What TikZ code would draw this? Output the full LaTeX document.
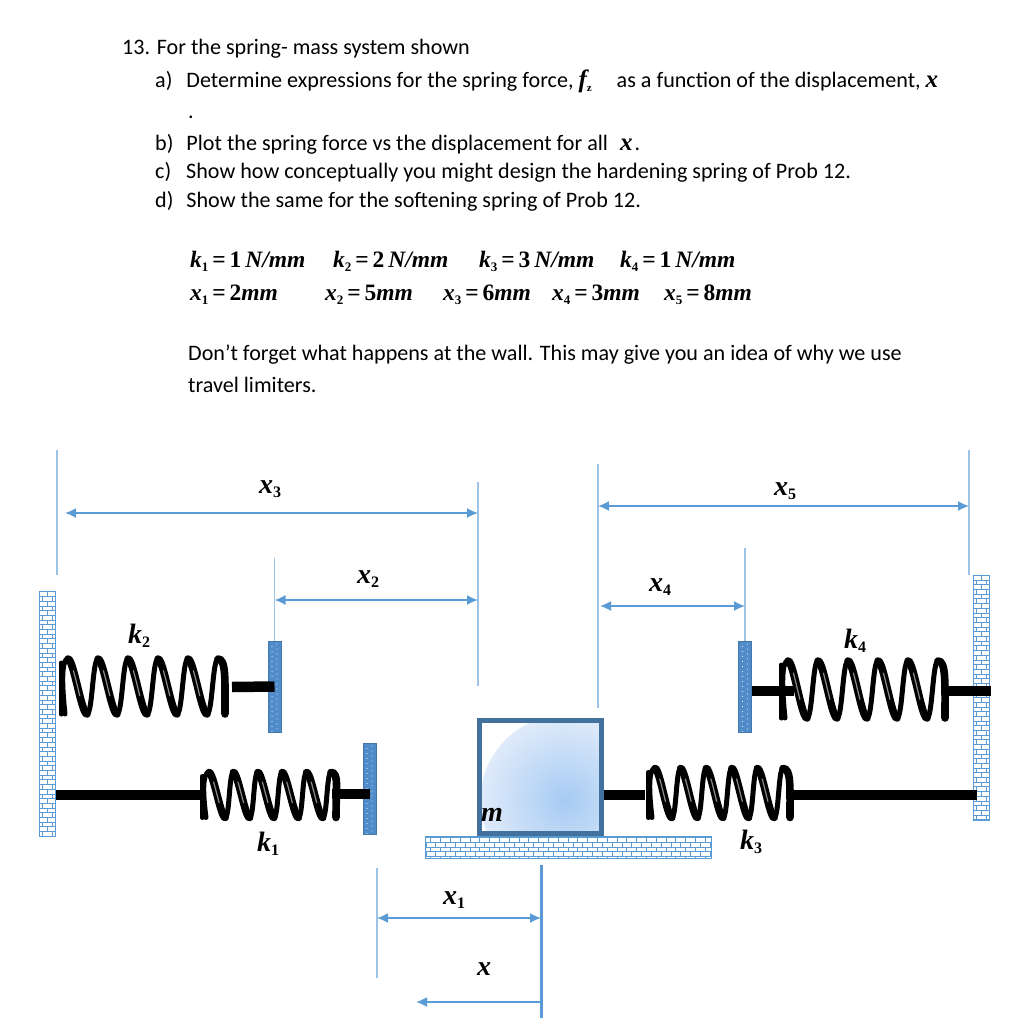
\documentclass[tikz,border=0pt]{standalone}
\usepackage{fontspec}
\setmainfont{Carlito}
\newfontfamily\symfont{Liberation Serif}
\usetikzlibrary{positioning,calc,arrows.meta}

\definecolor{dimblue}{HTML}{5B9BD5}
\definecolor{extblue}{HTML}{9DC3E6}
\definecolor{massblue}{HTML}{41719C}
\definecolor{plateblue}{HTML}{4F8CC9}
\definecolor{massinner}{HTML}{A6CBF3}
\definecolor{massouter}{HTML}{E0EBFA}

\def\subsize{13}
% bold italic letter with an upright index
\newcommand{\var}[2]{{\symfont\bfseries\itshape #1}{\symfont\fontsize{\subsize}{\subsize}\selectfont\raisebox{-4pt}{\bfseries #2}}}
\newcommand{\tvar}[2]{{\fontsize{25}{25}\selectfont\def\subsize{11}\var{#1}{#2}}}
\newcommand{\eqn}[3]{\var{#1}{#2}{\symfont\bfseries\,=\,#3}}
\newcommand{\unit}[1]{{\itshape #1}}
\newcommand{\coil}[5]{% left, right, middle, half height, pitch
    \draw[coilback] (#1+3,#3+#4) -- (#1+3,#3-#4+4);
    \draw[coilback] (#1+7,#3+#4) .. controls (#1+4,#3) and (#1+3,#3-#4) .. (#1+10,#3-#4);
    \draw[coilback] plot[domain=-180:1620, samples=110, smooth]
        ({#1+12+(\x+180)/360*#5+2*cos(\x)}, {#3+#4*cos(\x)});
    \foreach \k in {0,...,4}{
        \draw[coilline] plot[domain=\k*360-180:\k*360, samples=14, smooth]
            ({#1+12+(\x+180)/360*#5+2*cos(\x)}, {#3+#4*cos(\x)});
        \draw[coilshine] plot[domain=\k*360-125:\k*360-70, samples=6, smooth]
            ({#1+12+(\x+180)/360*#5+2*cos(\x)}, {#3+#4*cos(\x)});
    }
    \draw[coilline] (#1+10+5*#5,#3-#4) .. controls +(8,0) and (#2-4,#3-8) .. (#2-4,#3+#4);
}

\tikzset{
    line/.style={anchor=west, inner sep=0pt},
    label/.style={inner sep=0pt, font=\fontsize{28}{28}\selectfont\def\subsize{16}},
    eqrow/.style={anchor=west, inner sep=0pt, font=\fontsize{23.5}{24}\selectfont},
    ext/.style={extblue, line width=1.2pt},
    dimen/.style={dimblue, line width=1.7pt, {Latex[length=11pt,width=10pt]}-{Latex[length=11pt,width=10pt]}},
    dimone/.style={dimblue, line width=1.7pt, -{Latex[length=11pt,width=10pt]}},
    bar/.style={black, line width=10.5pt},
    coilback/.style={black, line width=5pt, line cap=round},
    coilline/.style={black, line width=7.6pt, line cap=round},
    coilshine/.style={black!45, line width=1.2pt, line cap=round},
    bricks/.style={draw=dimblue, line width=1pt, fill=white, inner sep=0pt, path picture={
        \foreach \r in {-28,...,28}{
            \draw[dimblue, line width=.8pt] (-160,\r*4.7) -- (160,\r*4.7);
            \foreach \c in {-16,...,16}{
                \pgfmathsetmacro{\off}{mod(abs(\r),2)*4.9}
                \draw[dimblue, line width=.8pt] (\c*9.8+\off,\r*4.7) -- (\c*9.8+\off,\r*4.7+4.7);
            }
        }
    }},
    plate/.style={draw=plateblue!85!black, fill=plateblue, line width=1pt, minimum width=13pt,
        minimum height=91pt, inner sep=0pt, path picture={
        \foreach \r in {-9,...,9}{
            \fill[white!75!plateblue] (-2.5,\r*5) circle (.6);
            \fill[white!75!plateblue] (2.5,\r*5+2.5) circle (.6);
        }
    }},
    massbox/.style={draw=massblue, line width=5pt, fill=white, minimum width=122pt, minimum height=113pt,
        inner sep=0pt, path picture={
        \shade[inner color=massinner, outer color=massouter] (25,23) circle (85);
    }}
}

\begin{document}
\begin{tikzpicture}[x=1pt, y=-1pt]
    \useasboundingbox (0,0) rectangle (1008,1024);

    \begin{scope}[font=\fontsize{22.1}{24}\selectfont]
        \node[line] (T0) at (122,49) {13. For the spring- mass system shown};
        \node[line] (Ta) at (155,81) {a)\hspace{14pt}Determine expressions for the spring force, \tvar{f}{z}\hspace{25pt}as a function of the displacement, \tvar{x}{}};
        \node[line] (Tdot) at (188,117) {.};
        \node[line] (Tb) at (155,144) {b)\hspace{13pt}Plot the spring force vs the displacement for all\hspace{12pt}\tvar{x}{}\hspace{2pt}.};
        \node[line] (Tc) at (155,172) {c)\hspace{15pt}Show how conceptually you might design the hardening spring of Prob 12.};
        \node[line] (Td) at (155,201) {d)\hspace{13pt}Show the same for the softening spring of Prob 12.};
        \node[line] (N1) at (188,355) {Don’t forget what happens at the wall. This may give you an idea of why we use};
        \node[line] (N2) at (188,385) {travel limiters.};
    \end{scope}

    \node[eqrow] (E1) at (190,261) {\eqn{k}{1}{1\,\unit{N/mm}}};
    \node[eqrow] (E2) at (333,261) {\eqn{k}{2}{2\,\unit{N/mm}}};
    \node[eqrow] (E3) at (479,261) {\eqn{k}{3}{3\,\unit{N/mm}}};
    \node[eqrow] (E4) at (620,261) {\eqn{k}{4}{1\,\unit{N/mm}}};
    \node[eqrow] (F1) at (190,295) {\eqn{x}{1}{2\unit{mm}}};
    \node[eqrow] (F2) at (325,295) {\eqn{x}{2}{5\unit{mm}}};
    \node[eqrow] (F3) at (443,295) {\eqn{x}{3}{6\unit{mm}}};
    \node[eqrow] (F4) at (552,295) {\eqn{x}{4}{3\unit{mm}}};
    \node[eqrow] (F5) at (664,295) {\eqn{x}{5}{8\unit{mm}}};

    % walls, floor, plates and mass
    \node[bricks, minimum width=16pt, minimum height=245pt] (wallL) at (47.5,714) {};
    \node[bricks, minimum width=16pt, minimum height=245pt] (wallR) at (981,697.5) {};
    \node[bricks, minimum width=286pt, minimum height=22pt] (floor) at (568,847) {};
    \node[plate] (plate2) at (274.5,686.5) {};
    \node[plate] (plate1) at (369.5,788.5) {};
    \node[plate] (plate4) at (745,686.5) {};
    \node[massbox] (mass) at (540.5,777) {};

    \coil{58}{229}{686.5}{27.5}{30}
    \coil{199}{340}{795}{22.5}{24.4}
    \coil{645}{794}{793}{24.5}{25.6}
    \coil{778}{949}{689.5}{28.5}{30}

    % rods
    \coordinate (c2) at (232,687);
    \coordinate (c1a) at (200,795);
    \coordinate (c1b) at (332,794);
    \coordinate (c3a) at (645,795);
    \coordinate (c3b) at (794,795);
    \coordinate (c3e) at (977,795);
    \coordinate (c4a) at (794,691);
    \coordinate (c4b) at (949,691);
    \coordinate (c4e) at (991,691);
    \begin{scope}
        \draw[bar] (c2) -- (plate2.center);
        \draw[bar] (wallL.east |- c1a) -- (c1a);
        \draw[bar] (c1b) -- (plate1.center |- c1b);
        \draw[bar] (mass.east |- c3a) -- (c3a);
        \draw[bar] (c3b) -- (c3e);
        \draw[bar] (plate4.east |- c4a) -- (c4a);
        \draw[bar] (c4b) -- (c4e);
    \end{scope}

    % dimension lines
    \coordinate (e3a) at (57,450);
    \coordinate (e3b) at (57,575);
    \coordinate (e0a) at (478,482);
    \coordinate (e0b) at (478,686);
    \coordinate (e5a) at (598,464);
    \coordinate (e5b) at (598,708);
    \coordinate (e9a) at (969,450);
    \coordinate (e9b) at (969,575);
    \coordinate (e1a) at (377,868);
    \coordinate (e1b) at (377,978);
    \coordinate (xa) at (541,865);
    \coordinate (xb) at (541,1018);
    \coordinate (y3) at (65,513);
    \coordinate (y2) at (0,600);
    \coordinate (y5) at (0,506);
    \coordinate (y4) at (600,606);
    \coordinate (y1) at (0,918);
    \coordinate (yx) at (0,1002);
    \coordinate (xend) at (416,1002);
    \begin{scope}
        \draw[ext] (e3a) -- (e3b);
        \draw[ext] (e0a) -- (e0b);
        \draw[ext] (e5a) -- (e5b);
        \draw[ext] (e9a) -- (e9b);
        \draw[ext] (e1a) -- (e1b);
        \draw[ext] (plate2.north) -- +(0,-83);
        \draw[ext] (plate4.north) -- +(0,-93);
        \draw[dimblue, line width=3pt] (xa) -- (xb);
        \draw[dimen] (y3) -- (e0a |- y3);
        \draw[dimen] (plate2.center |- y2) -- (e0a |- y2);
        \draw[dimen] (e5a |- y5) -- (e9a |- y5);
        \draw[dimen] (y4) -- (plate4.center |- y4);
        \draw[dimen] (e1a |- y1) -- (xa |- y1);
        \draw[dimone] (xa |- yx) -- (xend);
    \end{scope}

    % labels
    \node[label] (Lx3) at (270,489) {\var{x}{3}};
    \node[label] (Lx2) at (368,579) {\var{x}{2}};
    \node[label] (Lx5) at (785,491) {\var{x}{5}};
    \node[label] (Lx4) at (660,587) {\var{x}{4}};
    \node[label] (Lk2) at (139,636) {\var{k}{2}};
    \node[label] (Lk4) at (855,641) {\var{k}{4}};
    \node[label] (Lk1) at (268,844) {\var{k}{1}};
    \node[label] (Lk3) at (751,842) {\var{k}{3}};
    \node[label] (Lm) at (492,817) {\var{m}{}};
    \node[label] (Lx1) at (454,900) {\var{x}{1}};
    \node[label] (Lx) at (484,971) {\var{x}{}};
\end{tikzpicture}
\end{document}
